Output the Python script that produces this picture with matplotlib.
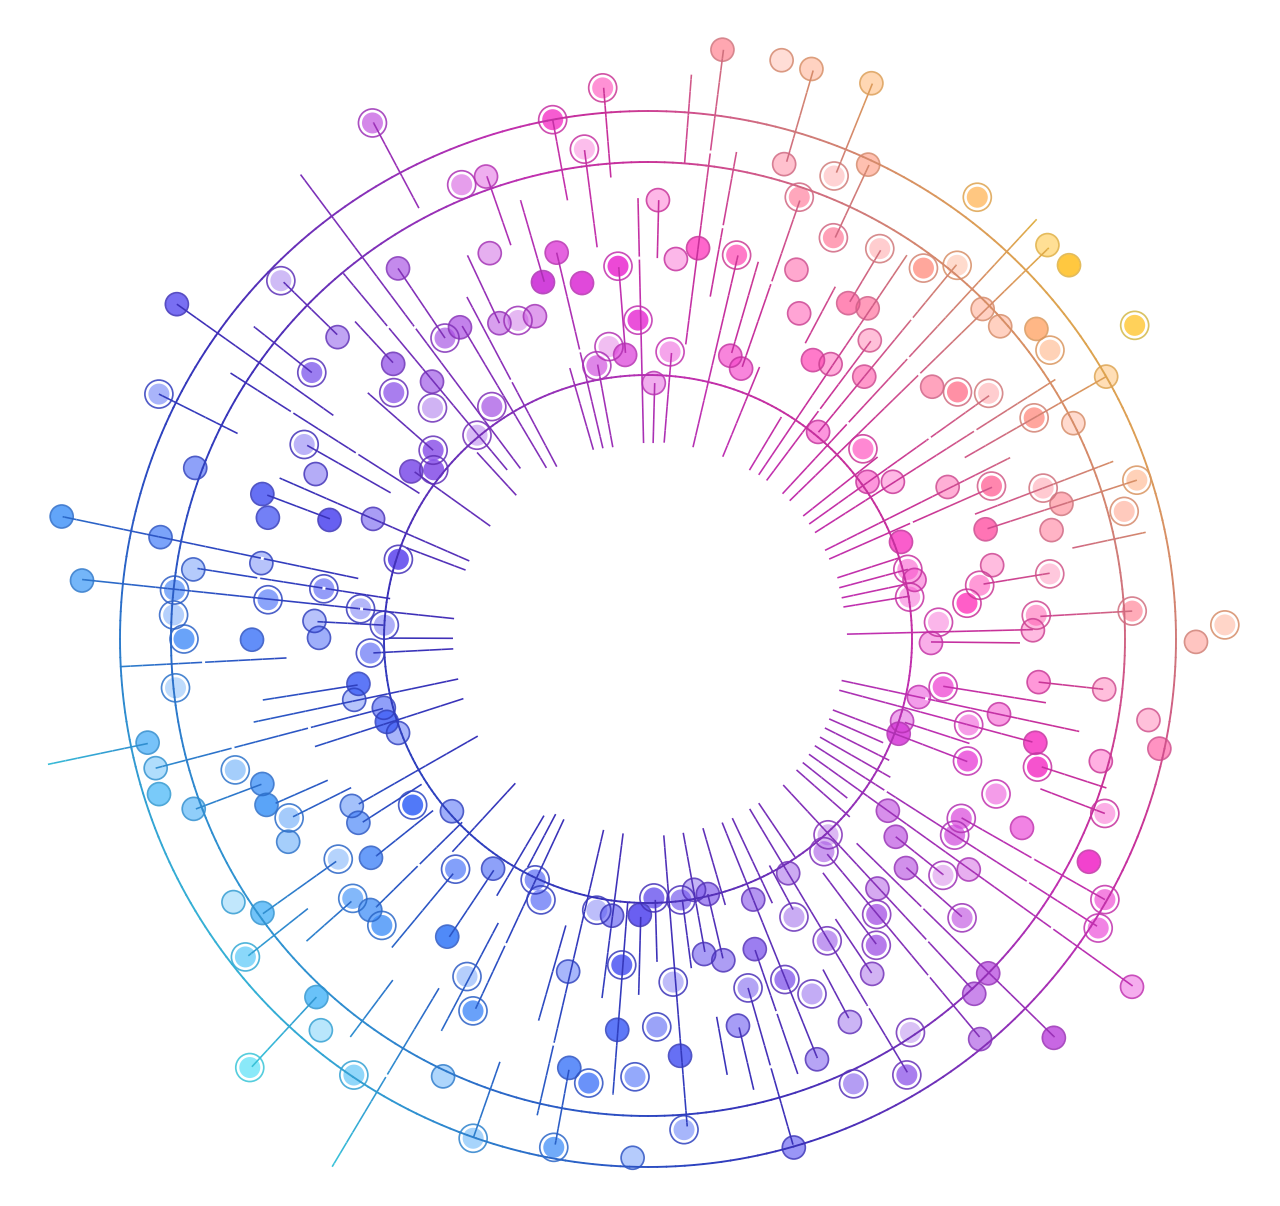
import numpy as np
import matplotlib
matplotlib.use('Agg')
import matplotlib.pyplot as plt
from matplotlib.collections import LineCollection
from matplotlib.colors import LinearSegmentedColormap

# 三个圆环
ring_r = [264, 477, 528]

# 径向线：角度(顺时针，从正上方起)，内端，外端
line_theta = [1.4, 1.5, 4.4, 4.7, 7.3, 10.3, 13.2, 16.2, 16.3, 19.1, 22.0, 22.3, 25, 28, 30.9, 31, 34, 36.8, 39.5,
              42.8, 45.7, 51.6, 54.5, 57.5, 60.2, 63.4, 66.2, 69.1, 72, 72.1, 75, 77.9, 78, 80.7, 80.7, 86.7, 88.6,
              90.6, 96.3, 99.1, 102.1, 105, 108, 108, 110.9, 111, 113.8, 116.7, 119.7, 119.7, 122.6, 125.6, 128.6,
              128.6, 131.4, 131.5, 134.4, 137.2, 140.2, 143.2, 146, 146.2, 149.1, 151.8, 152.1, 154.8, 158, 161,
              163.8, 164, 166.8, 166.8, 169.7, 169.7, 172.5, 175.4, 178.4, 181.5, 184.4, 187.3, 190.4, 193.1, 196,
              199.3, 205, 207.8, 207.8, 210.5, 210.9, 213.7, 216.8, 219.7, 222.6, 222.8, 225.4, 228.5, 231.4, 231.6,
              234.5, 237.3, 240.3, 243.4, 246.2, 249.4, 252.1, 255.3, 258.1, 258.2, 261, 267, 267.1, 270.2, 273, 276,
              278.9, 281.8, 290.7, 290.7, 293.6, 296.6, 299.6, 302.5, 305.4, 305.6, 308.4, 311.3, 314.4, 317.3, 317.5,
              320.2, 323.2, 326, 329.3, 332, 332.1, 334.8, 340.8, 343.8, 343.9, 346.7, 349.6, 349.6, 352.6, 355.4,
              355.5, 358.7]
line_inner = [381, 196, 477, 197, 297, 348, 197, 497, 298, 288, 503, 197, 443, 335, 393, 197, 198, 198, 268,
              198, 198, 198, 198, 198, 365, 198, 198, 350, 357, 199, 198, 434, 198, 198, 340, 393, 199,
              283, 393, 299, 198, 198, 270, 414, 420, 198, 198, 198, 198, 361, 198, 198, 198,
              317, 198, 345, 292, 199, 280, 292, 198, 337, 198, 257, 374, 198, 198, 329,
              197, 363, 262, 399, 197, 384, 263, 197, 261, 278, 264, 196, 438, 196, 298,
              448, 199, 198, 321, 205, 407, 278, 426, 305, 196, 488, 261, 396, 275, 434,
              383, 269, 196, 332, 350, 413, 194, 274, 194, 511, 294, 362, 195, 195, 265, 195,
              261, 296, 195, 340, 195, 459, 296, 271, 386, 194, 429, 286, 435, 376, 195,
              220, 213, 363, 199, 488, 195, 349, 417, 372, 197, 196, 195, 446, 395, 463,
              287, 196]
line_outer = [439, 256, 566, 287, 594, 495, 394, 592, 393, 464, 599, 294, 523, 399, 453, 259, 463, 372, 485,
              572, 560, 293, 419, 483, 528, 405, 376, 498, 514, 265, 269, 509, 261, 265, 407, 485, 385,
              372, 458, 403, 441, 398, 338, 482, 489, 342, 257, 270, 279, 526, 533, 596, 255,
              378, 269, 419, 569, 478, 518, 381, 263, 402, 505, 307, 429, 292, 452, 460,
              277, 526, 328, 463, 318, 443, 332, 489, 323, 356, 457, 362, 514, 489, 397,
              528, 408, 258, 443, 298, 615, 358, 497, 401, 289, 583, 382, 456, 348, 510,
              473, 339, 333, 397, 407, 483, 350, 509, 403, 613, 390, 528, 275, 259, 331, 569,
              456, 598, 258, 407, 402, 547, 392, 495, 578, 287, 503, 373, 510, 432, 253,
              476, 580, 447, 364, 585, 387, 424, 490, 457, 282, 397, 279, 528, 493, 553,
              373, 441]

# 线上的小缺口
gap_theta = [323.2, 320.2, 332.1, 346.7, 358.7, 7.3, 10.3, 19.1, 39.5, 42.8, 42.8, 36.8, 45.7, 54.5, 57.5, 66.2,
             102.1, 119.7, 122.6, 122.6, 125.6, 134.4, 137.2, 140.2, 149.1, 161, 164, 193.1, 205, 225.4, 210.9,
             255.3, 255.3, 267, 276, 278.9, 278.9, 281.8, 302.5, 302.5]
gap_r = [389, 406, 292, 296, 381, 491, 419, 377, 415, 383, 294, 286, 379, 346, 388, 288,
         285, 443, 282, 451, 497, 384, 411, 439, 429, 395, 445, 416, 337, 322, 509,
         350, 429, 445, 288, 328, 394, 394, 422, 345]

# 圆点：角度，半径，浓度，类型(0 紧贴描边，1 外圈留白)
point_theta = [1.3, 1.3, 4.4, 4.2, 7.3, 7.2, 13, 16.2, 19, 13, 16, 16, 18.9, 21.9, 24.9, 30.6, 33.6, 39.4, 21.9, 21.9,
               24.9, 24.8, 30.7, 30.8, 33.6, 36.6, 39.5, 48.5, 48.4, 51.4, 54.2, 36.6, 39.6, 36.7, 45.4, 48.4, 45.4,
               48.4, 57.2, 51.4, 54.3, 60.2, 60.2, 63.1, 63.1, 66, 69.1, 71.9, 72, 75, 72, 74.9, 57.3, 54.4, 69, 75,
               77.5, 80.9, 77.9, 80.8, 83.6, 80.8, 86.5, 88.7, 86.7, 90.3, 88.6, 86.7, 90.8,
               96.3, 96.3, 99.2, 102.1, 102.1, 105, 105, 107.9, 110.7, 110.9, 108.2, 105.1, 99.2, 102.1, 114, 110.9,
               125.6, 119.8, 122.6, 116.8, 128.6, 131.6, 128.7, 125.7, 116.8, 119.7, 122.7, 125.7, 134.5, 134.5,
               137.4, 140.3, 131.6, 137.4, 140.4, 149.1, 137.4, 140.3, 143.3, 146.2, 152.3, 149.3, 152.2, 158.1,
               146.3, 149.3, 155.2, 164, 158, 161, 158.1, 155.2, 164, 166.9, 166.8, 169.9, 166.8, 169.6, 172.8,
               178.7, 175.8, 181.7, 184.6, 187.4, 190.7, 184.5, 178.7, 175.6, 181.7, 175.8, 181.7, 187.6, 190.4,
               190.5, 193.5, 202.3, 205.1, 199.3, 205.2, 208.2, 205.1, 214, 219.9, 214, 228.7, 234.8, 222.9, 225.7,
               228.7, 231.7, 237.6, 240.6, 234.6, 243.5, 240.6, 252.4, 249.4, 246.5, 249.5, 252.4, 255.3, 258.3,
               237.6, 234.6, 231.7, 222.8, 219.9, 222.9, 214,
               264.1, 269.9, 270, 272.9, 275.9, 278.7, 281.8, 281.8, 275.9, 281.1, 275.9, 278.8, 273.1, 270.2, 276,
               273, 267.1, 261.2, 258.3, 255.4, 252.4, 249.4, 287.7, 293.6, 290.5, 287.7, 290.6, 296.4, 299.5, 290.7,
               296.6, 305.4, 308.4, 314.2, 314.3, 331.9, 305.3, 311.3, 308.3, 320, 317, 314.1, 317.2, 320, 326.1, 326,
               326, 328.9, 337.7, 340.7, 337.7, 334.8, 337.8, 340.7, 343.6, 346.7, 349.5, 349.6, 352.6, 355.3, 355.4,
               358.2, 355.4, 352.4, 349.4]
point_r = [439, 256, 288, 381, 394, 594, 394, 295, 286, 594, 593, 494, 467, 398, 359, 324, 330, 268, 499, 599,
           523, 442, 454, 391, 397, 372, 340, 287, 380, 396, 420, 462, 485, 551, 470, 471, 561,
           563, 579, 497, 495, 528, 445, 477, 336, 376, 423, 435, 514, 493, 355, 418, 291, 270, 271, 269,
           273, 265, 352, 336, 321, 407, 389, 385, 485, 548, 577, 291, 283,
           393, 459, 299, 277, 359, 332, 401, 267, 268, 342, 410, 469, 507, 523, 381, 489,
           295, 361, 364, 419, 317, 345, 378, 395, 494, 526, 535, 596, 569, 477,
           482, 520, 420, 266, 276, 273, 339, 358, 382, 403, 314, 351, 433, 453,
           473, 507, 490, 529, 281, 328, 367, 391, 363, 397, 330, 320, 262, 255, 263,
           259, 344, 276, 327, 279, 276, 392, 388, 418, 438, 492, 519, 448, 436,
           517, 342, 282, 266, 529, 411, 383, 483, 277, 300, 359, 261, 288, 391, 388,
           393, 353, 343, 340, 380, 401, 413, 433, 412, 416, 485, 513, 509, 511,
           491, 473, 513, 488, 510, 585, 526,
           475, 396, 464, 475, 476, 460, 498, 599, 569, 394, 382, 328, 334, 329, 289,
           264, 278, 293, 300, 273, 274, 267, 262, 300, 340, 399, 412, 371, 395, 484,
           547, 578, 429, 433, 513, 585, 290, 286, 273, 266, 316, 354, 375, 336, 280, 447,
           363, 364, 491, 490, 417, 349, 344, 342, 372, 397, 362, 528, 494, 553, 374,
           319, 285, 295, 278]
point_weight = [.3, .35, .4, .3, .8, .6, .7, .6, .6, .2, .35, .35, .55, .45, .45, .7, .4, .5, .25, .4,
                .5, .6, .3, .7, .6, .3, .55, .6, .55, .75, .3, .7, .25, .7, .35, .35, .5,
                1, .85, .75, .4, .35, .7, .25, .4, .75, .3, .5, .4, .4, .8, .45, .3, .5, .85, .45,
                .4, .35, .3, .5, .85, .25, .45, .3, .55, .4, .3, .3, .35,
                .5, .3, .7, .45, .45, .45, .9, .4, .9, .75, .9, .35, .3, .6, .45, .35,
                .55, .65, .65, .6, .6, .55, .25, .35, 1, .6, .6, .35, .8, .7,
                .6, .55, .55, .3, .5, .4, .4, .7, .7, .35, .4, .5, .35, .45,
                .25, .7, .5, .55, .55, .7, .7, .4, .45, .5, .5, .5, .6, .35, .6,
                .75, .3, .9, .85, .55, .3, .85, .5, .85, .5, .4, .3, .75, .8,
                .7, .4, .6, .6, .4, .75, .3, .35, .55, .6, .9, .45, .9, .75, .7,
                .6, .75, .6, .4, .3, .4, .4, .4, .75, .85, .55, .7, .35, .7,
                .25, .75, .6, .8, .3, .6, .55,
                .25, .8, .75, .3, .6, .3, .65, .8, .7, .3, .55, .55, .3, .45, .35,
                .4, .55, .85, .3, .55, .85, .4, .9, .5, .9, .75, .85, .4, .35, .55,
                .4, .8, .7, .45, .3, .6, .85, .8, .85, .3, .35, .7, .7, .6, .65, .6,
                .6, .65, .45, .35, .35, .45, .3, .45, 1, .8, .95, .85, .25, .55, .95,
                .9, .7, .25, .6]
point_group = [0, 0, 1, 0, 0, 0, 1, 0, 0, 0, 0, 0, 1, 0, 0, 0, 0, 0, 1, 0,
               0, 1, 1, 0, 0, 0, 0, 1, 0, 1, 1, 1, 1, 1, 0, 0, 0,
               0, 1, 0, 1, 0, 1, 0, 0, 1, 1, 0, 1, 1, 0, 0, 0, 0, 0, 1,
               0, 1, 0, 1, 1, 1, 1, 0, 1, 0, 1, 1, 0,
               0, 0, 1, 0, 0, 1, 0, 0, 0, 1, 1, 0, 0, 0, 1, 1,
               0, 1, 1, 0, 0, 0, 1, 0, 0, 1, 1, 0, 0, 0,
               0, 0, 1, 1, 1, 0, 0, 1, 1, 0, 1, 1, 0, 0,
               1, 1, 1, 0, 0, 0, 1, 1, 1, 0, 0, 0, 0, 0, 1,
               1, 1, 0, 1, 0, 1, 0, 1, 0, 1, 1, 0, 1, 0,
               1, 0, 1, 1, 1, 1, 1, 0, 0, 1, 0, 0, 1, 1, 0,
               1, 0, 0, 0, 1, 1, 0, 1, 0, 0, 0, 0, 0, 0,
               0, 0, 1, 0, 0, 1, 1,
               1, 0, 1, 1, 1, 0, 0, 0, 0, 0, 1, 1, 0, 0, 1,
               1, 1, 0, 0, 0, 0, 0, 1, 0, 0, 0, 0, 0, 1, 0,
               1, 0, 1, 0, 1, 1, 0, 1, 1, 1, 1, 1, 0, 0, 1, 0,
               1, 0, 1, 0, 0, 0, 1, 0, 0, 0, 0, 1, 1, 1, 1,
               1, 0, 1, 1]

# 颜色沿一个方向渐变：青 -> 蓝 -> 紫 -> 品红 -> 橙黄
grad_pos = [-620, -560, -470, -390, -280, -180, -60, 60, 180, 280, 350, 430, 510, 560, 600]
grad_fill = ['#40e8f0', '#4fd8f8', '#48b0f8', '#3f90f8', '#4068f8', '#5a50f0', '#8a50e8',
             '#b048e0', '#e840d8', '#ff45c0', '#ff5aa0', '#ff8080', '#ffa860', '#ffc840', '#ffcc40']
grad_line = ['#38d0d8', '#38c0d8', '#2f90d0', '#2a68c8', '#2c44c0', '#3a30b8', '#6430b8',
             '#9030b8', '#c030b0', '#c83098', '#d0508c', '#d07c78', '#dc9c58', '#e0b040', '#c8c050']
lo, hi = grad_pos[0], grad_pos[-1]
stops = [(p - lo) / (hi - lo) for p in grad_pos]
cmap_fill = LinearSegmentedColormap.from_list('fill', list(zip(stops, grad_fill)))
cmap_line = LinearSegmentedColormap.from_list('line', list(zip(stops, grad_line)))


def grad_value(theta, r):
    u = 0.8 * r * np.sin(theta) + 0.6 * r * np.cos(theta)
    return (u - lo) / (hi - lo)


def px(n):
    # 像素转磅，dpi=100
    return n * 72 / 100


fig = plt.figure(figsize=(12.8, 12.06), dpi=100, facecolor='white')
half = 640
ax = fig.add_axes([(648 - half) / 1280, 1 - (639 + half) / 1206, 2 * half / 1280, 2 * half / 1206],
                  projection='polar')
ax.set_theta_zero_location('N')
ax.set_theta_direction(-1)
ax.set_rlim(0, half)
ax.axis('off')

# 圆环
t = np.radians(np.arange(0, 360.5, 1.0))
for r in ring_r:
    pts = np.column_stack([t, np.full_like(t, r, dtype=float)])
    segs = np.stack([pts[:-1], pts[1:]], axis=1)
    c = cmap_line(grad_value(t[:-1], r))
    ax.add_collection(LineCollection(segs, colors=c, linewidths=px(1.9), zorder=4, capstyle='round'))

# 圆点
p_t = np.radians(point_theta)
p_r = np.array(point_r, dtype=float)
p_w = np.array(point_weight)
p_g = np.array(point_group)
gv = grad_value(p_t, p_r)
fills = cmap_fill(gv)
fills[:, 3] = 0.12 + 0.88 * p_w
edges = cmap_line(gv)
edges[:, 3] = 0.85
fill_size = np.where(p_g == 1, 10.5, 11.0)
ring_size = np.where(p_g == 1, 14.0, 11.5)
ax.scatter(p_t, p_r, s=(2 * px(fill_size)) ** 2, c=fills, linewidths=0, zorder=2)
ax.scatter(p_t, p_r, s=(2 * px(ring_size)) ** 2, facecolors='none', edgecolors=edges, linewidths=px(1.7), zorder=3)

# 径向线，分小段着色
segs, cols = [], []
for th, r0, r1 in zip(line_theta, line_inner, line_outer):
    rr = np.arange(r0, r1 + 12, 12.0)
    rr[-1] = r1
    tt = np.full_like(rr, np.radians(th))
    pts = np.column_stack([tt, rr])
    segs.extend(np.stack([pts[:-1], pts[1:]], axis=1))
    cols.extend(cmap_line(grad_value(tt[:-1], rr[:-1])))
ax.add_collection(LineCollection(segs, colors=cols, linewidths=px(1.6), zorder=5, capstyle='butt'))

# 缺口
gap_segs = [[(np.radians(th), r - 1.5), (np.radians(th), r + 1.5)] for th, r in zip(gap_theta, gap_r)]
ax.add_collection(LineCollection(gap_segs, colors='white', linewidths=px(3), zorder=6, capstyle='butt'))

fig.savefig('out.png', dpi=100, facecolor='white')
